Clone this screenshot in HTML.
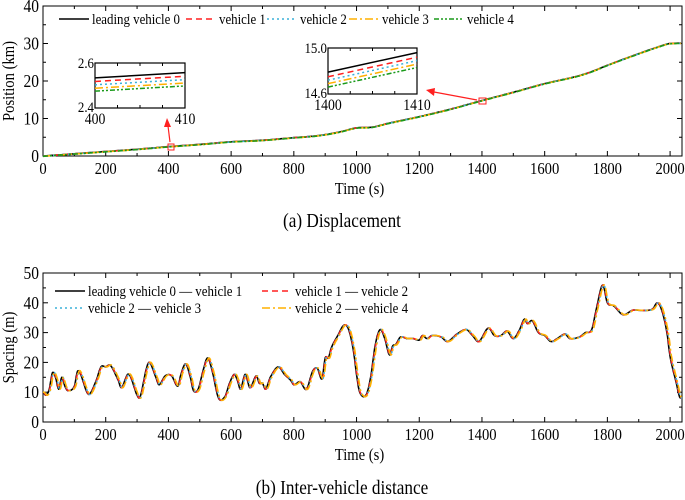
<!DOCTYPE html>
<html><head><meta charset="utf-8"><style>
html,body{margin:0;padding:0;background:#fff;}
svg{display:block;font-family:"Liberation Serif",serif;}
</style></head><body>
<svg id="chart" width="685" height="500" viewBox="0 0 685 500" xmlns="http://www.w3.org/2000/svg"></svg>
<script>
// ---- data ----
const posTimes = [0,100,200,300,400,500,600,700,800,850,900,950,1000,1050,1100,1200,1300,1400,1500,1600,1700,1750,1800,1900,1980,2000,2038];
const posValues = [0,0.6,1.2,1.8,2.5,3.1,3.8,4.2,4.9,5.2,5.7,6.5,7.5,7.7,8.7,10.5,12.5,14.8,17,19.3,21.2,22.5,24.2,27.3,29.6,30,30.1];
const posOffsets = [0,-0.03,-0.05,-0.07,-0.09];
const gapTimes = [0,10,20,30,40,50,60,70,80,100,110,120,140,150,170,185,200,215,240,250,270,280,300,310,330,340,360,370,390,410,430,440,455,470,480,495,510,525,540,560,580,595,610,620,630,645,660,680,690,700,710,725,750,770,790,800,820,840,860,875,890,900,910,920,940,960,975,990,1000,1010,1030,1045,1060,1075,1090,1105,1115,1125,1140,1160,1180,1200,1210,1225,1240,1270,1290,1320,1350,1370,1390,1420,1440,1460,1480,1500,1520,1535,1545,1560,1580,1600,1620,1640,1665,1680,1710,1730,1750,1765,1785,1800,1820,1850,1880,1900,1930,1945,1960,1975,1990,2000,2020,2030,2038];
const gapValues = [10,9,11,16.5,15,11,15,12,10.5,12,17,16,10,9.5,14,18.5,18.5,19,14,11.5,16,15,9,8.5,18,20,15,12.5,15.5,15.5,12,16,19.5,15,10.5,11,17,21.5,17,8,8.5,13,16,14,11,16,11.5,15.5,13,13,11,15,18.5,16,14,12.5,13.5,11,17,18,14.5,21.5,21.5,25,29,32.5,31,24,16,10,9,15,26,31,28,22.5,25.5,26,28.5,28,28,27.5,29,28,29,28.5,27,29.5,31,29,27,31.5,29,29,30.5,28,31,34.5,33,34,30,29,27,28,29.5,28,28.5,30,31,38,46,40,39,36,37.5,37.5,37.5,38,40,37,30,22,13,8.5,8];
const gapShifts = [0,1.5,3,4.5];
const xTicks = [0,200,400,600,800,1000,1200,1400,1600,1800,2000];
const posTicks = [0,10,20,30,40];
const gapTicks = [0,10,20,30,40,50];

const NS="http://www.w3.org/2000/svg";
const svg=document.getElementById('chart');
const SX=0.86;
function el(tag,attrs,parent){const e=document.createElementNS(NS,tag);for(const k in attrs)e.setAttribute(k,attrs[k]);(parent||svg).appendChild(e);return e;}
function txt(x,y,s,size,anchor,parent){const t=el('text',{x:0,y:0,'font-size':size,'text-anchor':anchor||'middle',fill:'#000',transform:'translate('+x+','+y+') scale('+SX+',1)'},parent);t.textContent=s;return t;}
function interp(ts,vs,t){
  const n=ts.length;
  if(t<=ts[0])return vs[0];
  if(t>=ts[n-1])return vs[n-1];
  let i=1;while(t>ts[i])i++;
  const t0=ts[i-1],t1=ts[i],h=t1-t0,u=(t-t0)/h;
  const y0=vs[i-1],y1=vs[i];
  const m0=(i-2>=0)?(y1-vs[i-2])/(t1-ts[i-2]):(y1-y0)/h;
  const m1=(i+1<n)?(vs[i+1]-y0)/(ts[i+1]-t0):(y1-y0)/h;
  const u2=u*u,u3=u2*u;
  return (2*u3-3*u2+1)*y0+(u3-2*u2+u)*h*m0+(-2*u3+3*u2)*y1+(u3-u2)*h*m1;
}

const X0=43,X1=682,TMAX=2038;
const xs=t=>X0+t/TMAX*(X1-X0);
const styles=[{c:'#000',d:''},{c:'#ff2020',d:'6,4'},{c:'#3ab0d8',d:'2,3'},{c:'#ffb000',d:'8,3,2,3'},{c:'#1a9a1a',d:'5,2,2,2,2,2'}];

function axes(top,bot,ymax,ticks,ytitle,name){
  const ys=v=>bot-v/ymax*(bot-top);
  const g=el('g',{});
  
  
  el('rect',{x:X0,y:top,width:X1-X0,height:bot-top,fill:'none',stroke:'#000','stroke-width':1},g);
  for(let t=0;t<=TMAX;t+=100){const L=(t%200===0)?5:3;el('line',{x1:xs(t),x2:xs(t),y1:bot,y2:bot-L,stroke:'#000'},g);el('line',{x1:xs(t),x2:xs(t),y1:top,y2:top+L,stroke:'#000'},g);}
  xTicks.forEach(t=>{const e=txt(xs(t),bot+18,String(t),17,'middle',g);});
  const step=ticks[1]-ticks[0];
  for(let v=0;v<=ymax;v+=step/2){const L=(Math.abs(v/step-Math.round(v/step))<1e-6)?5:3;el('line',{x1:X0,x2:X0+L,y1:ys(v),y2:ys(v),stroke:'#000'},g);el('line',{x1:X1,x2:X1-L,y1:ys(v),y2:ys(v),stroke:'#000'},g);}
  ticks.forEach(v=>{const e=txt(X0-4,ys(v)+6,String(v),18,'end',g);});
  const xt=txt(X0+(X1-X0)/2-3,bot+38,'Time (s)',17,'middle',g);
  
  const yt=el('text',{x:0,y:0,'font-size':17,'text-anchor':'middle',fill:'#000',transform:'translate(14,'+((top+bot)/2)+') rotate(-90) scale('+SX+',1)'},g);
  yt.textContent=ytitle;
  
  return ys;
}

// ---- Plot (a) ----
const ysA=axes(6,156,40,posTicks,'Position (km)','displacement');
for(let k=0;k<5;k++){
  let d='';
  for(let t=0;t<=TMAX;t+=5){d+=(t?'L':'M')+xs(t).toFixed(1)+','+ysA(interp(posTimes,posValues,t)+posOffsets[k]).toFixed(1);}
  const p=el('path',{d:d,fill:'none',stroke:styles[k].c,'stroke-width':1.6,'stroke-dasharray':styles[k].d});
  
  
}
const legA=['leading vehicle 0','vehicle 1','vehicle 2','vehicle 3','vehicle 4'];
const legAx=[59,186,267,349,434];
legA.forEach((s,i)=>{
  const g=el('g',{});
  
  
  el('line',{x1:legAx[i],x2:legAx[i]+30,y1:19,y2:19,stroke:styles[i].c,'stroke-width':1.5,'stroke-dasharray':styles[i].d},g);
  txt(legAx[i]+33,24,s,15,'start',g);
});
// insets
function inset(bx,by,bw,bh,t0,v0,v1,tl0,tl1,vl0,vl1,name,base,slope){
  const g=el('g',{});
  
  
  el('rect',{x:bx,y:by,width:bw,height:bh,fill:'#fff',stroke:'#000','stroke-width':1.2},g);
  const ix=t=>bx+(t-t0)/10*bw, iy=v=>by+bh-(v-v0)/(v1-v0)*bh;
  for(let k=0;k<5;k++){
    const a=base[k],b=base[k]+slope;
    el('line',{x1:ix(t0),y1:iy(a),x2:ix(t0+10),y2:iy(b),stroke:styles[k].c,'stroke-width':1.5,'stroke-dasharray':styles[k].d},g);
  }
  for(let i=1;i<4;i++){el('line',{x1:bx+bw*i/4,x2:bx+bw*i/4,y1:by,y2:by+3,stroke:'#000'},g);el('line',{x1:bx+bw*i/4,x2:bx+bw*i/4,y1:by+bh,y2:by+bh-3,stroke:'#000'},g);}
  txt(bx,by+bh+16,tl0,16,'middle',g);txt(bx+bw,by+bh+16,tl1,16,'middle',g);
  txt(bx-1,by+5,vl1,15,'end',g);txt(bx-1,by+bh+4,vl0,15,'end',g);
}
inset(95,63,90,45,400,2.4,2.6,'400','410','2.4','2.6','inset-400s',[2.534,2.518,2.503,2.488,2.475],0.023);
inset(328,48,89,46,1400,14.6,15.0,'1400','1410','14.6','15.0','inset-1400s',[14.79,14.75,14.72,14.69,14.66],0.17);
el('rect',{x:168,y:144,width:6,height:6,fill:'none',stroke:'#ff2020','stroke-width':1});
el('rect',{x:479,y:98,width:7,height:6,fill:'none',stroke:'#ff2020','stroke-width':1});
el('line',{x1:170,y1:142,x2:168,y2:126,stroke:'#ff2020','stroke-width':1.2});
el('polygon',{points:'167,118 164,127 171,127',fill:'#ff2020'});
el('line',{x1:477,y1:100,x2:434,y2:92,stroke:'#ff2020','stroke-width':1.2});
el('polygon',{points:'426,90 435,88 434,96',fill:'#ff2020'});
const capA=txt(342,227,'(a) Displacement',20,'middle');


// ---- Plot (b) ----
const ysB=axes(273,422,50,gapTicks,'Spacing (m)','spacing');
for(let k=0;k<4;k++){
  let d='';
  for(let t=0;t<=TMAX;t+=2){const v=interp(gapTimes,gapValues,t-gapShifts[k]);d+=(t?'L':'M')+xs(t).toFixed(1)+','+ysB(v).toFixed(1);}
  const p=el('path',{d:d,fill:'none',stroke:styles[k].c,'stroke-width':1.6,'stroke-dasharray':styles[k].d,'stroke-linejoin':'round'});
  
  
}
const legB=['leading vehicle 0 — vehicle 1','vehicle 1 — vehicle 2','vehicle 2 — vehicle 3','vehicle 2 — vehicle 4'];
const legBx=[55,262,55,262],legBy=[291,291,308,308];
legB.forEach((s,i)=>{
  const g=el('g',{});
  
  
  el('line',{x1:legBx[i],x2:legBx[i]+30,y1:legBy[i],y2:legBy[i],stroke:styles[i].c,'stroke-width':1.5,'stroke-dasharray':styles[i].d},g);
  txt(legBx[i]+33,legBy[i]+5,s,15,'start',g);
});
const capB=txt(342,494,'(b) Inter-vehicle distance',20,'middle');

</script>
</body></html>
